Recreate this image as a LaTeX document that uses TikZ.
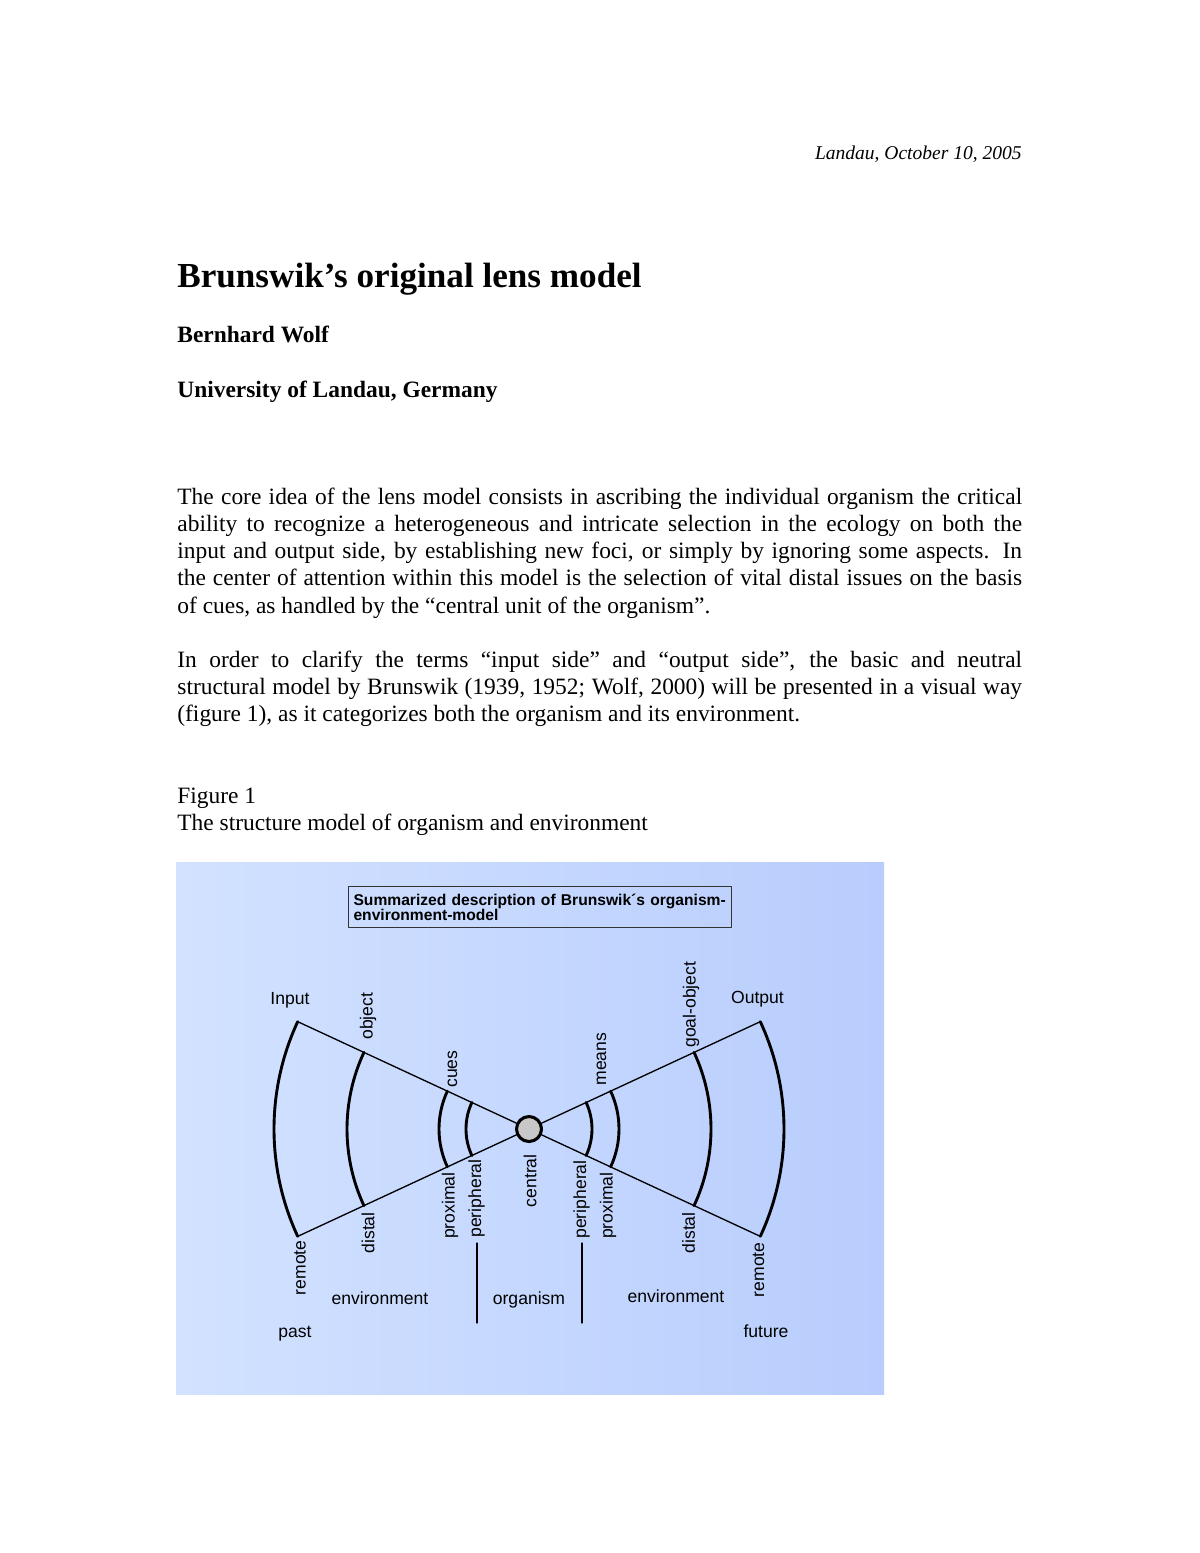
\documentclass[tikz,border=0pt]{standalone}
\usepackage{fontspec}
\setmainfont{Liberation Serif}
\setsansfont{Liberation Sans}
\definecolor{bgleft}{RGB}{210,226,255}
\definecolor{bgright}{RGB}{184,205,253}
\definecolor{lensgray}{RGB}{200,200,200}
\newcommand\jline[1]{\makebox[152.1mm][s]{#1}}
\tikzset{
  body/.style={anchor=base west, inner sep=0pt, font=\fontsize{12}{13.8}\selectfont},
  lbl/.style={inner sep=0pt, font=\sffamily\fontsize{9}{10}\selectfont},
  uplbl/.style={lbl, rotate=90, anchor=west},
  lowlbl/.style={lbl, rotate=90, anchor=east},
  lensarc/.style={line width=0.52mm},
  ray/.style={line width=0.24mm},
}
\begin{document}
\begin{tikzpicture}[x=0.018cm, y=-0.018cm, line join=round, line cap=round]
\useasboundingbox[fill=white] (0,0) rectangle (1200,1553);

% page text
\node[anchor=base east, inner sep=0pt, font=\fontsize{10}{12}\selectfont\itshape] (date) at (1022,159) {Landau, October 10, 2005};
\node[body, font=\fontsize{18}{21}\selectfont\bfseries] (title) at (177,287) {Brunswik’s original lens model};
\node[body, font=\fontsize{12}{13.8}\selectfont\bfseries] (author) at (177,342) {Bernhard Wolf};
\node[body, font=\fontsize{12}{13.8}\selectfont\bfseries] (univ) at (177,397) {University of Landau, Germany};

\node[body] (pa1) at (177,504) {\jline{The core idea of the lens model consists in ascribing the individual organism the critical}};
\node[body] (pa2) at (177,531) {\jline{ability to recognize a heterogeneous and intricate selection in the ecology on both the}};
\node[body] (pa3) at (177,558) {\jline{input and output side, by establishing new foci, or simply by ignoring some aspects. In}};
\node[body] (pa4) at (177,585) {\jline{the center of attention within this model is the selection of vital distal issues on the basis}};
\node[body] (pa5) at (177,613) {of cues, as handled by the “central unit of the organism”.};
\node[body] (pb1) at (177,667) {\jline{In order to clarify the terms “input side” and “output side”, the basic and neutral}};
\node[body] (pb2) at (177,694) {\jline{structural model by Brunswik (1939, 1952; Wolf, 2000) will be presented in a visual way}};
\node[body] (pb3) at (177,721) {(figure 1), as it categorizes both the organism and its environment.};
\node[body] (fig) at (177,803) {Figure 1};
\node[body] (cap) at (177,830) {The structure model of organism and environment};

% figure
\shade[left color=bgleft, right color=bgright] (176,862) rectangle (884,1394);
\node[draw=black!80, line width=0.2mm, anchor=north west, minimum height=7.4mm, text width=67.1mm,
      inner xsep=0.9mm, inner ysep=0pt, align=left, font=\sffamily\bfseries\fontsize{8}{7.7}\selectfont] (head) at (348,886)
  {Summarized description of Brunswik´s organism-\\environment-model};

\path
(529,1129) coordinate (O)
(O) ++ (204.9:255) coordinate (inup)
(O) ++ (155.1:255) coordinate (inlow)
(O) ++ (-24.9:255) coordinate (outup)
(O) ++ (24.9:255) coordinate (outlow)
(477,1243) coordinate (divL1) (477,1323) coordinate (divL2)
(582,1243) coordinate (divR1) (582,1323) coordinate (divR2)
;
\node[circle, draw, line width=0.55mm, fill=lensgray, minimum size=4.5mm, inner sep=0pt] (lens) at (O) {};
\draw[ray] (inup) -- (lens) -- (inlow);
\draw[ray] (outup) -- (lens) -- (outlow);

\foreach \r in {255,182,90,63}{
    \draw[lensarc] (O) ++(155.1:\r) arc[start angle=155.1, end angle=204.9, radius=\r];
    \draw[lensarc] (O) ++(-24.9:\r) arc[start angle=-24.9, end angle=24.9, radius=\r];
}
\draw[line width=0.2mm] (divL1) -- (divL2) (divR1) -- (divR2);

\foreach \name/\px/\py in {object/368/1040, cues/452.5/1088, means/601.5/1086, goal-object/691/1048}{
    \node[uplbl] (\name) at (\px,\py) {\name};
}
\foreach \name/\txt/\px/\py in {remL/remote/300/1240, distL/distal/368/1212, proxL/proximal/450/1172,
    periL/peripheral/476.5/1159, central/central/530/1154, periR/peripheral/581.5/1160,
    proxR/proximal/608/1172, distR/distal/688.5/1212, remR/remote/758.5/1242}{
    \node[lowlbl] (\name) at (\px,\py) {\txt};
}
\foreach \name/\txt/\px/\py in {input/Input/290/1004, output/Output/757.5/1003, envL/environment/380/1304,
    org/organism/529/1304, envR/environment/676/1302, past/past/295/1337, future/future/766/1337}{
    \node[lbl, anchor=base] (\name) at (\px,\py) {\txt};
}
\end{tikzpicture}
\end{document}
